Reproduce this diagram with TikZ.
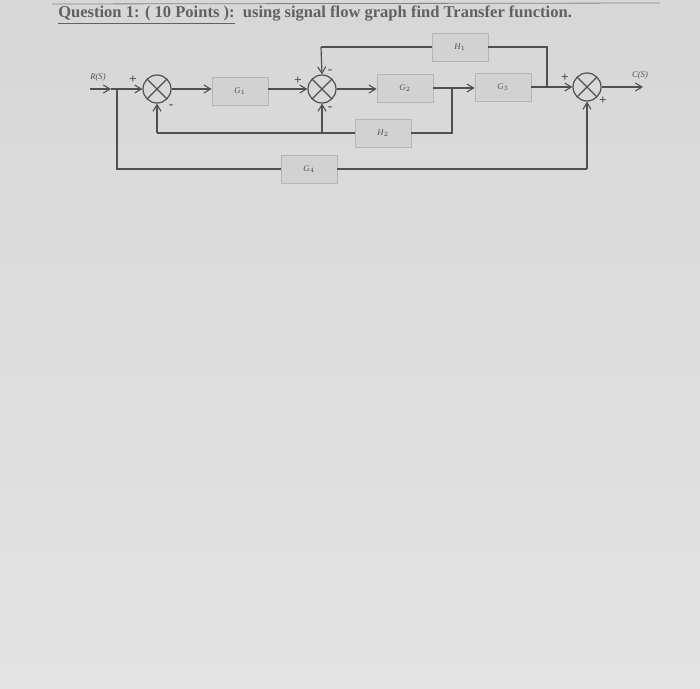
\documentclass[tikz,border=0pt]{standalone}
\usepackage{fontspec}
\setmainfont{Liberation Serif}
\usetikzlibrary{arrows.meta}
\definecolor{ink}{HTML}{505050}
\definecolor{paper}{HTML}{D7D7D7}
\definecolor{paperlight}{HTML}{E3E3E3}
\definecolor{boxfill}{HTML}{D2D2D2}
\definecolor{boxline}{HTML}{B5B5B5}
\begin{document}
\begin{tikzpicture}[x=0.75pt,y=-0.75pt,
  line/.style={draw=ink,line width=0.9pt},
  arr/.style={line,-{Straight Barb[length=5pt,width=6pt,line width=0.8pt]}},
  blk/.style={draw=boxline,fill=boxfill,line width=0.6pt,minimum width=42pt,minimum height=21pt,inner sep=0pt,font=\fontsize{6.5}{7}\selectfont\itshape,text=ink},
  summ/.style={circle,draw=ink,line width=0.9pt,minimum size=21pt,inner sep=0pt,
    path picture={\draw[ink,line width=0.9pt] (path picture bounding box.north west) -- (path picture bounding box.south east) (path picture bounding box.north east) -- (path picture bounding box.south west);}},
  sgn/.style={font=\fontsize{10}{10}\selectfont\bfseries,text=ink,inner sep=0pt},
  lbl/.style={font=\fontsize{6.5}{7}\selectfont\itshape,text=ink,inner sep=0pt}]
\useasboundingbox (0,0) rectangle (700,689);
\shade[top color=paper,bottom color=paperlight] (0,0) rectangle (700,689);
% top cut line
\draw[ink!70,line width=0.6pt] (52,4) -- (660,3);
% title
\node[anchor=west,inner sep=0pt,text=ink!90,font=\fontsize{12.4}{14}\selectfont\bfseries] (title) at (58,15) {\underline{Question 1: ( 10 Points ):}\ \ using signal flow graph find Transfer function.};
% summers
\node[summ] (s1) at (157,89) {};
\node[summ] (s2) at (322,89) {};
\node[summ] (s3) at (587,87) {};
% blocks
\node[blk] (g1) at (240,91) {G$_1$};
\node[blk] (g2) at (405,88) {G$_2$};
\node[blk] (g3) at (503,87) {G$_3$};
\node[blk] (h1) at (460,47) {H$_1$};
\node[blk] (h2) at (383,133) {H$_2$};
\node[blk] (g4) at (309,169) {G$_4$};
% coordinates
\coordinate (in) at (90,89);
\coordinate (ina) at (111,89);
\coordinate (j1) at (117,89);
\coordinate (j2) at (452,88);
\coordinate (j3) at (547,87);
\coordinate (j4) at (322,133);
\coordinate (out) at (643,87);
\coordinate (ch1l) at (321,47);
\coordinate (ch1r) at (547,47);
\coordinate (ch2) at (452,133);
\coordinate (ch3) at (157,133);
\coordinate (cg4l) at (117,169);
\coordinate (cg4r) at (587,169);
% labels
\node[lbl] (rs) at (98,77) {R(S)};
\node[lbl] (cs) at (640,75) {C(S)};
% signs
\node[sgn] (p1) at (133,80) {+};
\node[sgn] (m1) at (171,107) {-};
\node[sgn] (p2) at (298,81) {+};
\node[sgn] (m2) at (330,72) {-};
\node[sgn] (m3) at (330,109) {-};
\node[sgn] (p3) at (565,78) {+};
\node[sgn] (p4) at (603,101) {+};
% forward path
\draw[arr] (in) -- (ina);
\draw[line] (ina) -- (j1);
\draw[arr] (j1) -- (s1);
\draw[arr] (s1) -- (g1.west |- s1);
\draw[arr] (g1.east |- s1) -- (s2);
\draw[arr] (s2) -- (g2.west |- s2);
\draw[line] (g2.east |- j2) -- (j2);
\draw[arr] (j2) -- (g3.west |- j2);
\draw[line] (g3.east |- j3) -- (j3);
\draw[arr] (j3) -- (s3);
\draw[arr] (s3) -- (out);
% H1 path
\draw[line] (h1.west) -- (ch1l);
\draw[arr] (ch1l) -- (s2.north);
\draw[line] (h1.east) -- (ch1r) -- (j3);
% H2 feedback
\draw[line] (j2) -- (ch2) -- (h2.east);
\draw[line] (h2.west) -- (j4);
\draw[arr] (j4) -- (s2.south);
\draw[line] (j4) -- (ch3);
\draw[arr] (ch3) -- (s1.south);
% G4 path
\draw[line] (j1) -- (cg4l) -- (g4.west);
\draw[line] (g4.east) -- (cg4r);
\draw[arr] (cg4r) -- (s3.south);
\end{tikzpicture}
\end{document}
